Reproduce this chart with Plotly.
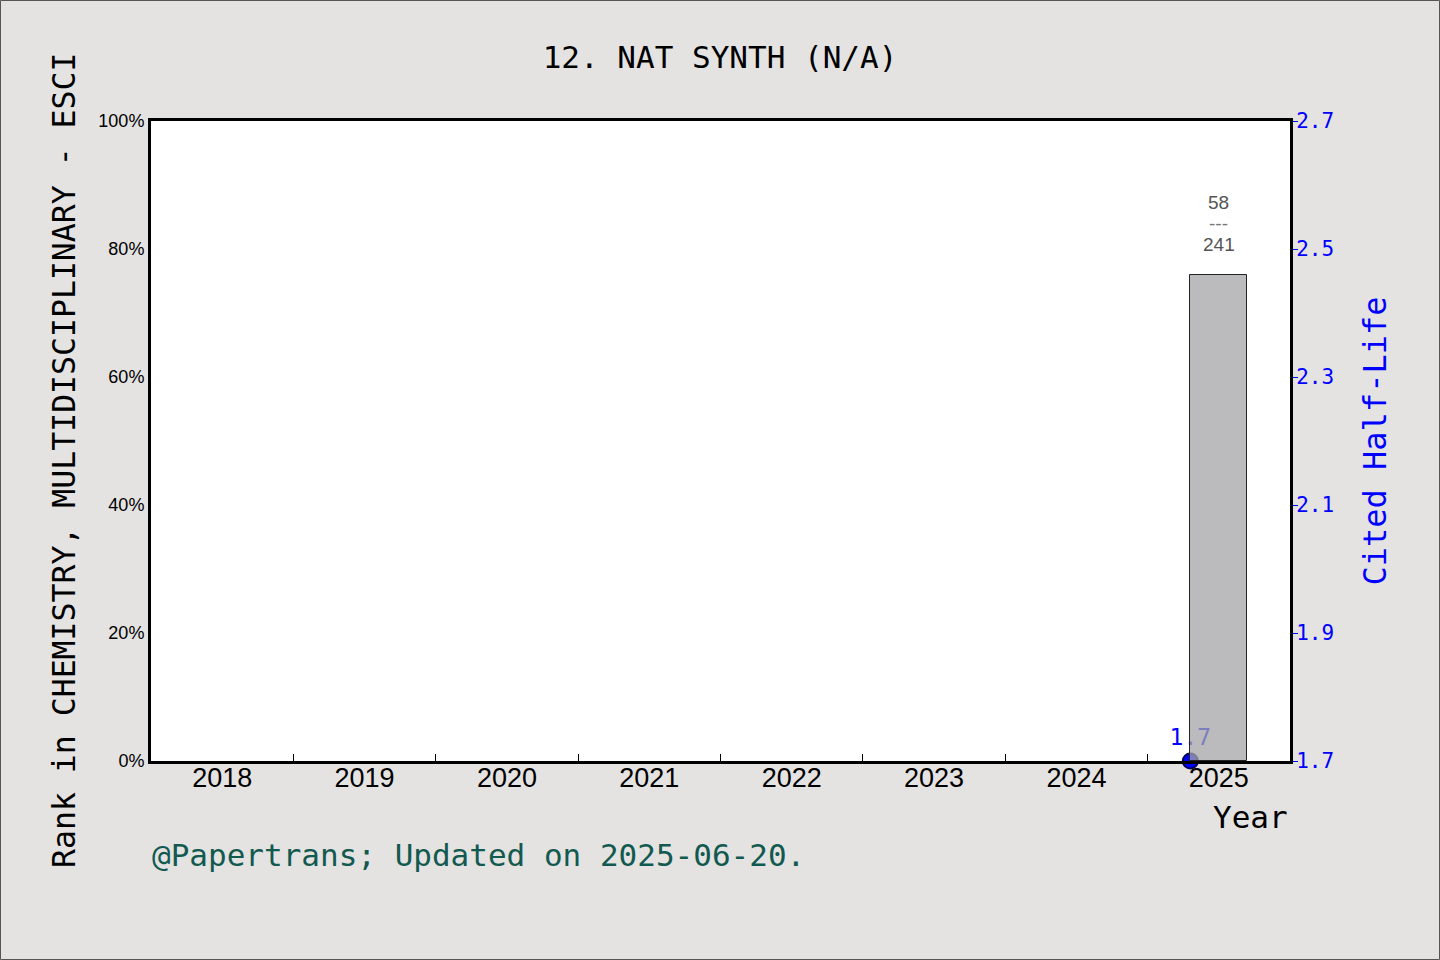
import plotly.graph_objects as go

# ---- data ----
years = [2018, 2019, 2020, 2021, 2022, 2023, 2024, 2025]
rank = [None, None, None, None, None, None, None, 58]
total = [None, None, None, None, None, None, None, 241]
half_life = [None, None, None, None, None, None, None, 1.7]
pct_ticks = [0, 0.2, 0.4, 0.6, 0.8, 1.0]
pct_labels = ["0%", "20%", "40%", "60%", "80%", "100%"]
hl_ticks = [1.7, 1.9, 2.1, 2.3, 2.5, 2.7]
hl_labels = ["1.7", "1.9", "2.1", "2.3", "2.5", "2.7"]

title_text = "12. NAT SYNTH (N/A)"
left_title = "Rank in CHEMISTRY, MULTIDISCIPLINARY - ESCI"
right_title = "Cited Half-Life"
footer = "@Papertrans; Updated on 2025-06-20."

# derived values
bar_x = [y for y, r in zip(years, rank) if r is not None]
bar_y = [1 - r / t for r, t in zip(rank, total) if r is not None]
bar_rank = [r for r in rank if r is not None]
bar_total = [t for t in total if t is not None]
BAR_W = 0.4
hl_x = [y - BAR_W / 2 for y, h in zip(years, half_life) if h is not None]
hl_y = [h for h in half_life if h is not None]

W, H = 1440, 960
L, R, T, B = 151, 150, 121, 199
pw, ph = W - L - R, H - T - B
BOTTOM = H - B  # pixel row of the plot bottom

MONO = "DejaVu Sans Mono"
SANS = "Liberation Sans"
BG = "#e4e3e2"

fig = go.Figure()

fig.add_trace(go.Scatter(
    x=hl_x, y=hl_y, mode="markers+text", yaxis="y",
    text=[f"{v:.1f}" for v in hl_y], textposition="top center",
    textfont=dict(family=MONO, size=23, color="blue"),
    marker=dict(size=15, color="blue", line=dict(color="#000060", width=2)),
    cliponaxis=False, showlegend=False,
))

fig.add_trace(go.Bar(
    x=bar_x, y=bar_y, width=BAR_W, yaxis="y2",
    marker=dict(color="rgba(165,166,168,0.76)", line=dict(color="#222", width=1)),
    showlegend=False,
))

lbl_font = dict(family=SANS, size=19, color="#555555")
for x, y, r, t in zip(bar_x, bar_y, bar_rank, bar_total):
    fig.add_annotation(x=x, y=y, xref="x", yref="y2", text=str(t), showarrow=False,
                       yanchor="middle", yshift=31, font=lbl_font)
    fig.add_annotation(x=x, y=y, xref="x", yref="y2", text="---", showarrow=False,
                       yanchor="middle", yshift=52, font=dict(family=SANS, size=19, color="#777777"))
    fig.add_annotation(x=x, y=y, xref="x", yref="y2", text=str(r), showarrow=False,
                       yanchor="middle", yshift=73, font=lbl_font)

# left axis title (placed slightly below the axis centre, as in the reference)
fig.add_annotation(text=left_title, xref="paper", yref="paper",
                   x=-(L - 64) / pw, y=(BOTTOM - 461) / ph, textangle=-90,
                   xanchor="center", yanchor="middle", showarrow=False,
                   font=dict(family=MONO, size=31.5, color="black"))

fig.add_annotation(text="Year", xref="paper", yref="paper", x=1.0, y=-(817 - BOTTOM) / ph,
                   xanchor="right", yanchor="middle", showarrow=False,
                   font=dict(family=MONO, size=31, color="black"))
fig.add_annotation(text=footer, xref="paper", yref="paper", x=-(L - 150) / pw, y=-(855 - BOTTOM) / ph,
                   xanchor="left", yanchor="middle", showarrow=False,
                   font=dict(family=MONO, size=31, color="#12594f"))

# outer thin frame
fig.add_shape(type="rect", xref="paper", yref="paper",
              x0=-(L - 0.5) / pw, x1=1 + (R - 0.5) / pw,
              y0=-(B - 0.5) / ph, y1=1 + (T - 0.5) / ph,
              line=dict(color="#555", width=1), layer="below")

fig.update_layout(
    width=W, height=H,
    margin=dict(l=L, r=R, t=T, b=B),
    paper_bgcolor=BG, plot_bgcolor="white",
    title=dict(text=title_text, x=0.5, xanchor="center", y=1 - 57 / H, yanchor="middle",
               font=dict(family=MONO, size=31, color="black")),
    xaxis=dict(
        range=[years[0] - 0.5, years[-1] + 0.5],
        tickvals=years, ticktext=[str(y) for y in years],
        ticks="", showgrid=False, zeroline=False,
        ticklabelstandoff=-9,
        tickfont=dict(family=SANS, size=27, color="black"),
        showline=True, linecolor="black", linewidth=3, mirror=True,
        minor=dict(tickvals=[y + 0.5 for y in years[:-1]], ticks="inside",
                   ticklen=7, tickwidth=1, tickcolor="black", showgrid=False),
    ),
    yaxis=dict(
        side="right", range=[hl_ticks[0], hl_ticks[-1]],
        tickvals=hl_ticks, ticktext=hl_labels,
        ticks="outside", ticklen=5, tickcolor="blue", tickwidth=1,
        ticklabelstandoff=-6,
        tickfont=dict(family=MONO, size=21, color="blue"),
        showgrid=False, zeroline=False,
        showline=True, linecolor="black", linewidth=3,
        title=dict(text=right_title, standoff=31,
                   font=dict(family=MONO, size=32, color="blue")),
    ),
    yaxis2=dict(
        overlaying="y", side="left", range=[0, 1],
        tickvals=pct_ticks, ticktext=pct_labels,
        ticks="", tickfont=dict(family=SANS, size=18, color="black"),
        showgrid=False, zeroline=False,
        showline=True, linecolor="black", linewidth=3,
    ),
    bargap=0,
)

fig.write_html("out.html", config={"displayModeBar": False},
               post_script="document.body.style.margin='0';")
